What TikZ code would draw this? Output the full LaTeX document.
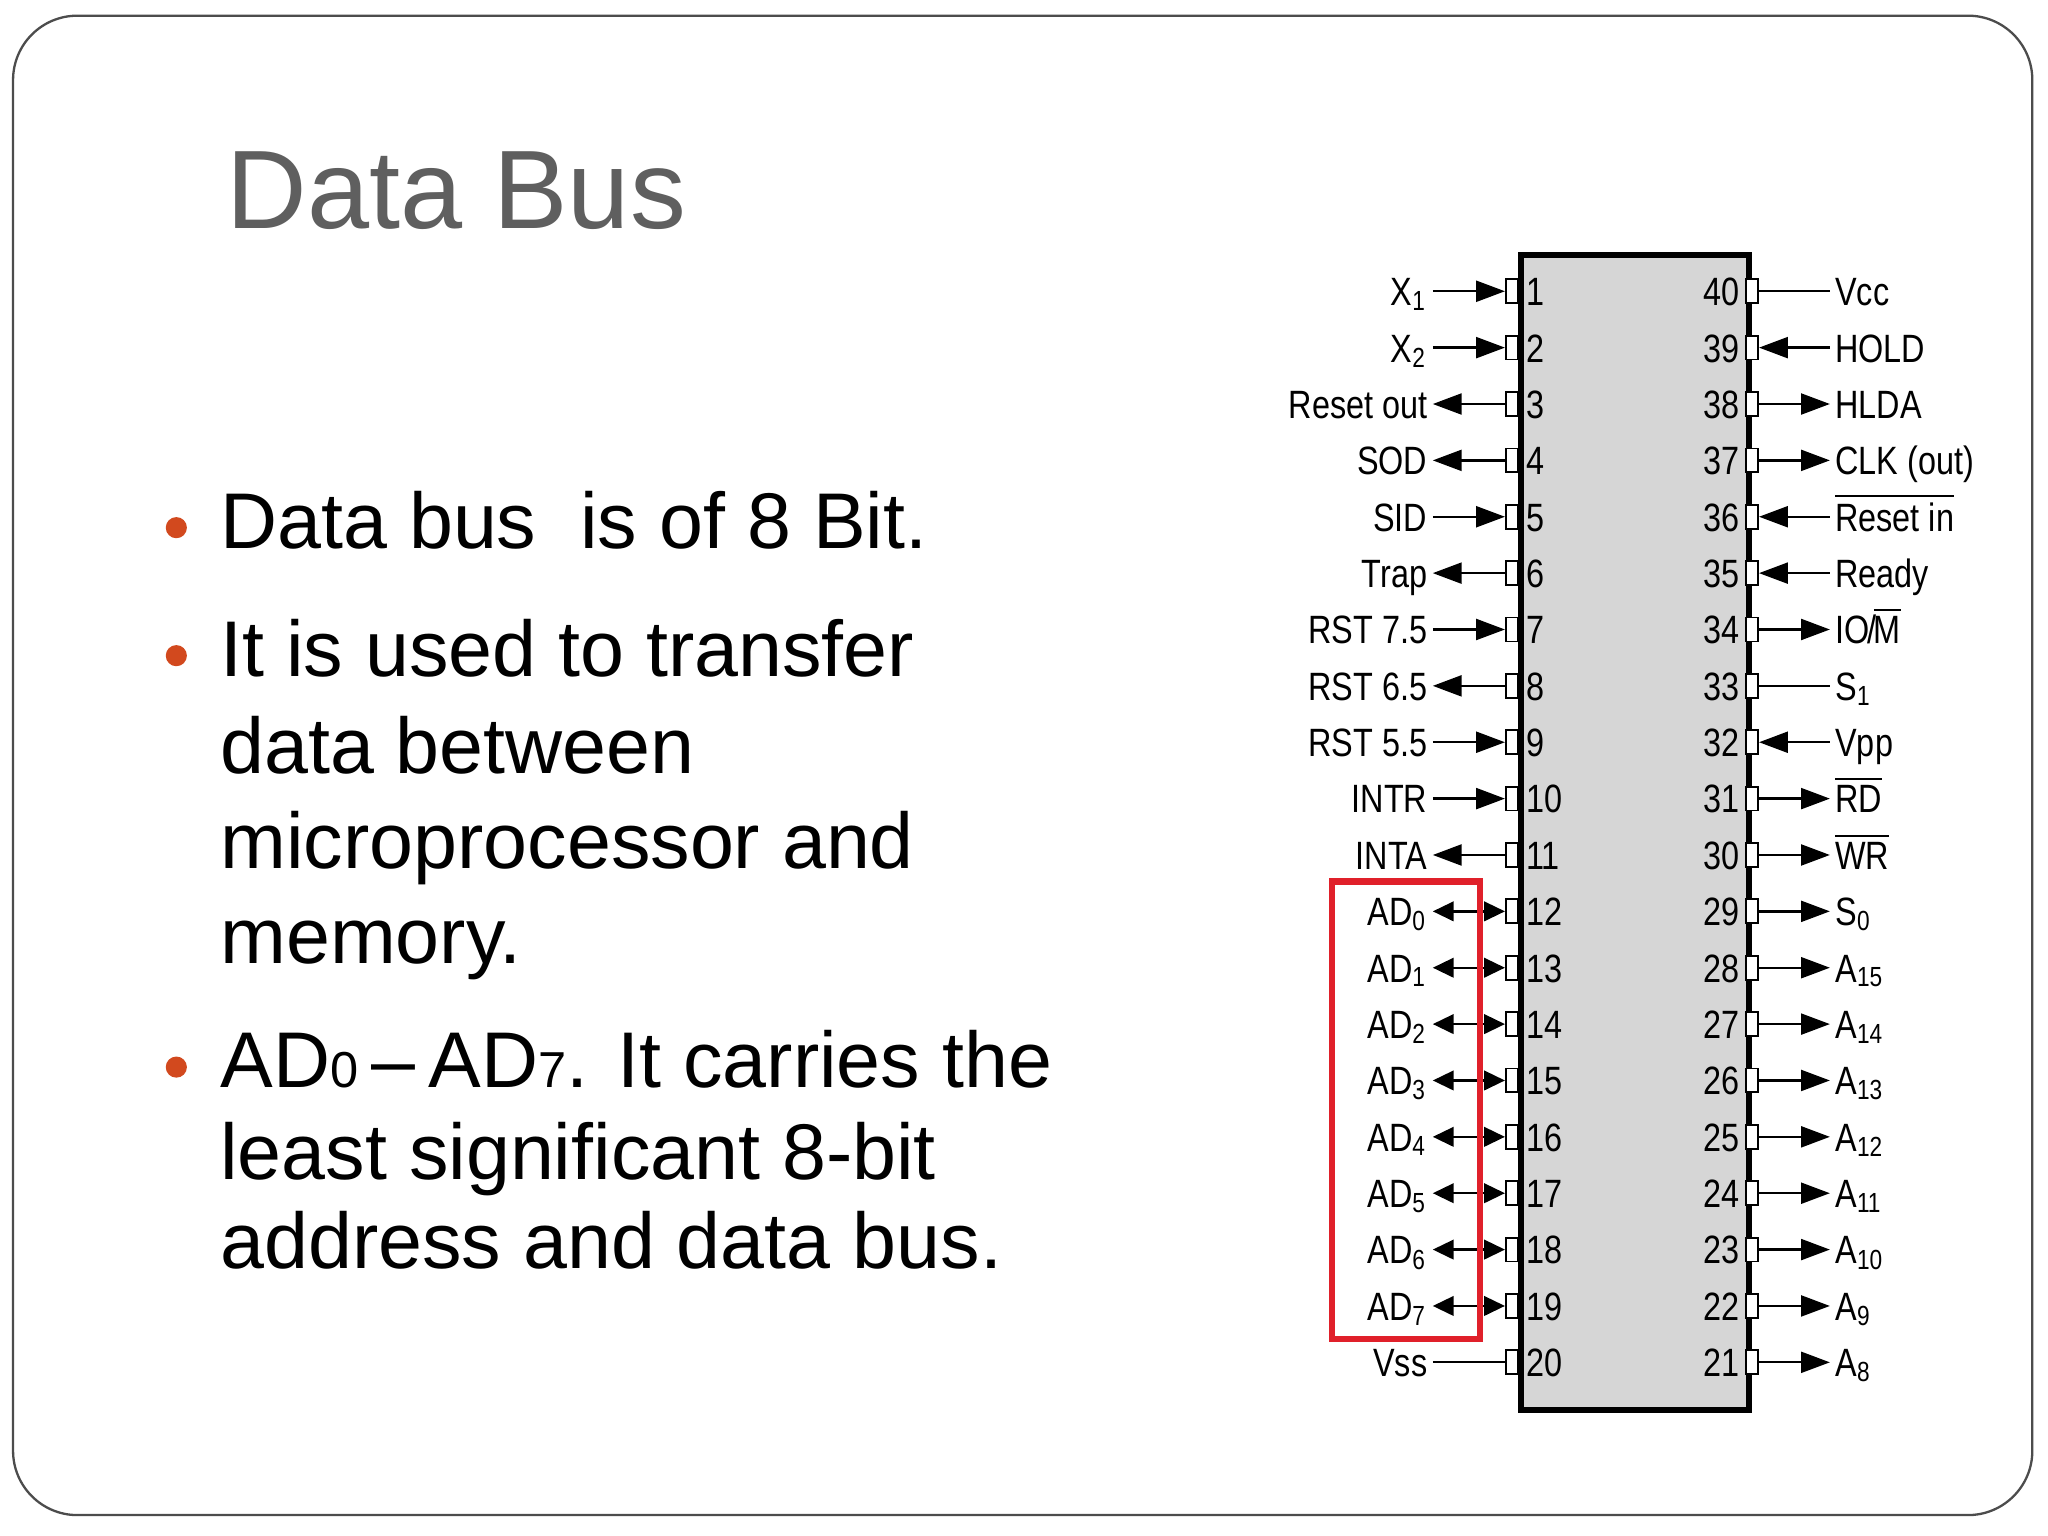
\documentclass[tikz,border=0pt]{standalone}
\usepackage{fontspec}
\setmainfont{Liberation Sans}
\newfontfamily\chipfont[FakeStretch=0.82]{Liberation Sans}
\usetikzlibrary{arrows.meta}
\definecolor{titlegray}{HTML}{5F5F5F}
\definecolor{bulletc}{HTML}{D2491E}
\definecolor{chipfill}{HTML}{D6D6D6}
\definecolor{redbox}{HTML}{E0202A}
\tikzset{
  pinbox/.style={draw,fill=white,line width=0.4pt,minimum width=2.6pt,minimum height=5.2pt,inner sep=0pt},
  chiplab/.style={font=\chipfont\fontsize{8.6pt}{9pt}\selectfont,inner sep=1pt},
  pinnum/.style={font=\chipfont\fontsize{8.6pt}{9pt}\selectfont,inner sep=0.5pt},
  wire/.style={line width=0.5pt},
  tp/.tip={Triangle[length=2.2mm,width=1.6mm]},
  tq/.tip={Triangle[length=1.6mm,width=1.5mm]},
  tipend/.style={-tp}, tipstart/.style={tp-}, tipboth/.style={tq-tq}, tipnone/.style={},
  bodytext/.style={font=\fontsize{17.2pt}{20.8pt}\selectfont,anchor=base west,inner sep=0pt},
  dot/.style={circle,fill=bulletc,inner sep=0pt,minimum size=4.6pt}
}
\newcommand{\olab}[1]{\ensuremath{\overline{\mbox{#1}}}}
\newcommand{\iom}{IO\kern-0.5pt/\kern-0.5pt\olab{M}}
\newcommand{\sdig}[1]{{\fontsize{11pt}{11pt}\selectfont #1}}
\begin{document}
\begin{tikzpicture}[x=0.01cm,y=-0.01cm]
\useasboundingbox (0,0) rectangle (1568,1176);
\fill[white] (0,0) rectangle (1568,1176);
\draw[line width=0.5pt,rounded corners=14pt,black!70] (10,12) rectangle (1556,1160);
\node[anchor=base west,inner sep=0pt,text=titlegray,font=\fontsize{24.3pt}{28pt}\selectfont] (title) at (173,175) {Data Bus};
% bullets
\node[dot] (d1) at (135,404) {};
\node[bodytext] (b1) at (168,420) {Data bus\ \ is of 8 Bit.};
\node[dot] (d2) at (135,502) {};
\node[bodytext] (b2a) at (168,518) {It is used to transfer};
\node[bodytext] (b2b) at (168,592) {data between};
\node[bodytext] (b2c) at (168,665) {microprocessor and};
\node[bodytext] (b2d) at (168,738) {memory.};
\node[dot] (d3) at (135,817) {};
\node[bodytext] (b3a) at (168,833) {AD\sdig{0}\,--\,AD\sdig{7}. It carries the};
\node[bodytext] (b3b) at (168,903) {least significant 8-bit};
\node[bodytext] (b3c) at (168,971) {address and data bus.};
% chip
\node[draw,fill=chipfill,line width=1.3pt,minimum width=175*0.01cm,minimum height=884*0.01cm,inner sep=0pt,anchor=north west] (chip) at (1162,193) {};
\foreach \i/\lab/\dir in {1/X\textsubscript{1}/tipend,2/X\textsubscript{2}/tipend,3/Reset out/tipstart,4/SOD/tipstart,5/SID/tipend,6/Trap/tipstart,7/RST 7.5/tipend,8/RST 6.5/tipstart,9/RST 5.5/tipend,10/INTR/tipend,11/INTA/tipstart,12/AD\textsubscript{0}/tipboth,13/AD\textsubscript{1}/tipboth,14/AD\textsubscript{2}/tipboth,15/AD\textsubscript{3}/tipboth,16/AD\textsubscript{4}/tipboth,17/AD\textsubscript{5}/tipboth,18/AD\textsubscript{6}/tipboth,19/AD\textsubscript{7}/tipboth,20/Vss/tipnone}{
  \pgfmathsetmacro{\yy}{223+(\i-1)*43.16}
  \node[pinbox] (L\i) at (1157.5,\yy) {};
  \node[pinnum,anchor=base west] (LN\i) at (1166,\yy+11) {\i};
  \node[chiplab,anchor=base east] (LL\i) at (1097,\yy+11) {\lab};
  \draw[wire,\dir] (LL\i.east |- L\i.west) -- (L\i.west);
}
\foreach \i/\lab/\dir in {40/Vcc/tipnone,39/HOLD/tipstart,38/HLDA/tipend,37/CLK (out)/tipend,36/\olab{Reset in}/tipstart,35/Ready/tipstart,34/\iom/tipend,33/S\textsubscript{1}/tipnone,32/Vpp/tipstart,31/\olab{RD}/tipend,30/\olab{WR}/tipend,29/S\textsubscript{0}/tipend,28/A\textsubscript{15}/tipend,27/A\textsubscript{14}/tipend,26/A\textsubscript{13}/tipend,25/A\textsubscript{12}/tipend,24/A\textsubscript{11}/tipend,23/A\textsubscript{10}/tipend,22/A\textsubscript{9}/tipend,21/A\textsubscript{8}/tipend}{
  \pgfmathsetmacro{\yy}{223+(40-\i)*43.16}
  \node[pinbox] (R\i) at (1341.5,\yy) {};
  \node[pinnum,anchor=base east] (RN\i) at (1334,\yy+11) {\i};
  \node[chiplab,anchor=base west] (RL\i) at (1401,\yy+11) {\lab};
  \draw[wire,\dir] (R\i.east) -- (RL\i.west |- R\i.east);
}
\draw[redbox,line width=1.4pt] (1020,675) rectangle (1133,1025);
\end{tikzpicture}
\end{document}
